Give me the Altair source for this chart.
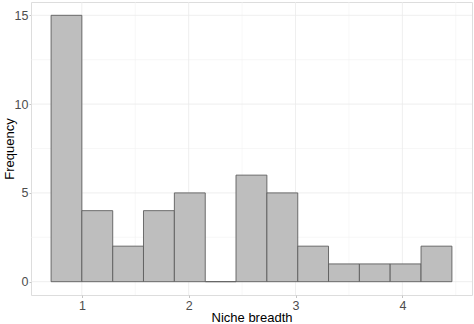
import altair as alt
import pandas as pd

# Histogram bins (left edges, right edges) and counts
bin_left = [0.712, 1.000, 1.289, 1.577, 1.866, 2.155, 2.443, 2.732, 3.021, 3.309, 3.598, 3.886, 4.175]
bin_right = [1.000, 1.289, 1.577, 1.866, 2.155, 2.443, 2.732, 3.021, 3.309, 3.598, 3.886, 4.175, 4.464]
counts = [15, 4, 2, 4, 5, 0, 6, 5, 2, 1, 1, 1, 2]

x_major = [1, 2, 3, 4]
x_minor = [1.5, 2.5, 3.5, 4.5]
y_major = [0, 5, 10, 15]
y_minor = [2.5, 7.5, 12.5]

x_dom = [0.524, 4.652]
y_dom = [-0.75, 15.75]

bars = pd.DataFrame({"x": bin_left, "x2": bin_right, "y": counts})
xs = alt.Scale(domain=x_dom, nice=False, zero=False)
ys = alt.Scale(domain=y_dom, nice=False, zero=False)

FONT = "Liberation Sans"

xaxis = alt.Axis(values=x_major, grid=False, domain=False, tickColor="#c4c4c4",
                 tickSize=2.5, labelPadding=2, labelFontSize=12.5, labelColor="#4d4d4d",
                 labelFont=FONT, titleFont=FONT, titleFontSize=13, titleFontWeight="normal",
                 titleColor="#000000", titleY=26, titleBaseline="alphabetic")
yaxis = alt.Axis(values=y_major, grid=False, domain=False, tickColor="#c4c4c4",
                 tickSize=2, labelPadding=1, labelFontSize=12.5, labelColor="#4d4d4d",
                 labelFont=FONT, titleFont=FONT, titleFontSize=13, titleFontWeight="normal",
                 titleColor="#000000", titleX=-18, titleBaseline="alphabetic")
XT = "Niche breadth"
YT = "Frequency"

xgrid_min = alt.Chart(pd.DataFrame({"v": x_minor})).mark_rule(color="#f2f2f2", strokeWidth=0.6).encode(
    x=alt.X("v:Q", scale=xs, axis=xaxis, title=XT))
ygrid_min = alt.Chart(pd.DataFrame({"v": y_minor})).mark_rule(color="#f2f2f2", strokeWidth=0.6).encode(
    y=alt.Y("v:Q", scale=ys, axis=yaxis, title=YT))
xgrid = alt.Chart(pd.DataFrame({"v": x_major})).mark_rule(color="#ebebeb", strokeWidth=0.8).encode(
    x=alt.X("v:Q", scale=xs, axis=xaxis, title=XT))
ygrid = alt.Chart(pd.DataFrame({"v": y_major})).mark_rule(color="#ebebeb", strokeWidth=0.8).encode(
    y=alt.Y("v:Q", scale=ys, axis=yaxis, title=YT))

rect = alt.Chart(bars).mark_rect(fill="#bebebe", stroke="#5e5e5e", strokeWidth=0.9).encode(
    x=alt.X("x:Q", scale=xs, axis=xaxis, title=XT),
    x2="x2:Q",
    y=alt.Y("y:Q", scale=ys, axis=yaxis, title=YT),
    y2=alt.datum(0),
)

chart = alt.layer(xgrid_min, ygrid_min, xgrid, ygrid, rect).properties(
    width=441, height=293,
    padding={"left": 31, "top": 2, "right": 2, "bottom": 29},
    autosize=alt.AutoSizeParams(type="none"),
).configure_view(stroke="#b8b8b8", strokeWidth=1.5).configure(background="white")

chart.save("out.html", embed_options={"renderer": "svg", "actions": False})
